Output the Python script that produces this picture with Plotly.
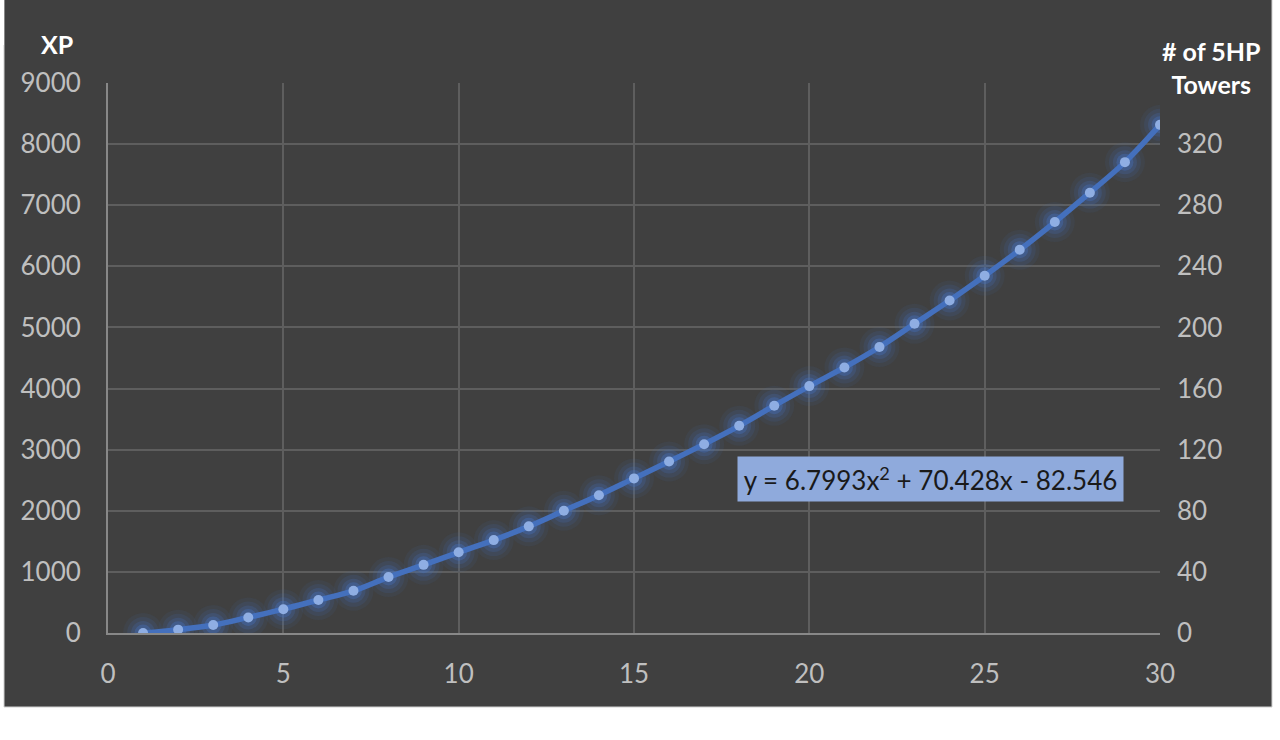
import plotly.graph_objects as go

# Data
level = list(range(1, 31))
xp = [0, 55, 130, 255, 390, 540, 690, 915, 1115, 1320,
      1520, 1745, 2000, 2255, 2530, 2805, 3090, 3390, 3720, 4040,
      4345, 4680, 5060, 5440, 5845, 6270, 6725, 7205, 7705, 8315]

xp_ticks = list(range(0, 9001, 1000))
tower_ticks = list(range(0, 321, 40))
level_ticks = list(range(0, 31, 5))

trend_text = "y = 6.7993x<sup>2</sup> + 70.428x - 82.546"

W, H = 1280, 740
L, R, T, B = 108, 120, 83, 107
pw, ph = W - L - R, H - T - B


def px(x):
    return (x - L) / pw


def py(y):
    return (H - B - y) / ph


BG = "#404040"
FONT = "Lato"

fig = go.Figure()

# soft glow under the markers
for size, alpha in [(40, 0.08), (32, 0.12), (24, 0.2), (17, 0.35)]:
    fig.add_trace(go.Scatter(
        x=level, y=xp, mode="markers",
        marker=dict(size=size, color=f"rgba(68,114,196,{alpha})", line=dict(width=0)),
        hoverinfo="skip", showlegend=False))

# trend line and points
fig.add_trace(go.Scatter(
    x=level, y=xp, mode="lines",
    line=dict(color="#4470BD", width=5.5, shape="spline"),
    showlegend=False))
fig.add_trace(go.Scatter(
    x=level, y=xp, mode="markers",
    marker=dict(size=10, color="#8FAEE3", line=dict(width=0)),
    showlegend=False))

# empty trace so the right axis is drawn
fig.add_trace(go.Scatter(x=[None], y=[None], yaxis="y2", showlegend=False))

fig.update_layout(
    width=W, height=H,
    margin=dict(l=L, r=R, t=T, b=B),
    paper_bgcolor="white",
    plot_bgcolor="rgba(0,0,0,0)",
    font=dict(family=FONT, size=26, color="#BFBFBF"),
    showlegend=False,
    xaxis=dict(
        range=[0, 30], tickvals=level_ticks,
        showgrid=True, gridcolor="#5E5E5E", gridwidth=2,
        showline=True, linecolor="#888888", linewidth=2,
        zeroline=False, ticks="", ticklabelstandoff=17,
        tickfont=dict(size=26, color="#BFBFBF"),
    ),
    yaxis=dict(
        range=[0, 9000], tickvals=xp_ticks,
        showgrid=True, gridcolor="#5E5E5E", gridwidth=2,
        showline=True, linecolor="#888888", linewidth=2,
        zeroline=False, ticks="", ticklabelstandoff=20,
        tickfont=dict(size=26, color="#BFBFBF"),
    ),
    yaxis2=dict(
        overlaying="y", side="right",
        range=[0, 360], tickvals=tower_ticks,
        showgrid=False, showline=False, zeroline=False,
        ticks="", ticklabelstandoff=16,
        tickfont=dict(size=26, color="#BFBFBF"),
    ),
    shapes=[
        dict(type="rect", xref="paper", yref="paper", layer="below",
             x0=px(4), x1=px(1272), y0=py(707), y1=py(-5),
             fillcolor=BG, line=dict(color="#D0D0D0", width=1)),
        dict(type="rect", xref="paper", yref="paper", layer="below",
             x0=px(-5), x1=px(4), y0=py(45), y1=py(-5),
             fillcolor="white", line=dict(width=0)),
    ],
    annotations=[
        dict(text="<b>XP</b>", xref="paper", yref="paper",
             x=px(57), y=py(44), xanchor="center", yanchor="middle",
             showarrow=False,
             font=dict(family=FONT, size=25, color="white")),
        dict(text="<b># of 5HP<br>Towers</b>", xref="paper", yref="paper",
             x=px(1211), y=py(67), xanchor="center", yanchor="middle",
             showarrow=False,
             font=dict(family=FONT, size=25, color="white")),
        dict(text=trend_text, xref="paper", yref="paper",
             x=px(930), y=py(479), xanchor="center", yanchor="middle",
             showarrow=False,
             width=383, height=42, bgcolor="#8FAADC",
             font=dict(family=FONT, size=26, color="#1A1A1A")),
    ],
)

fig.write_html("out.html", config={"displayModeBar": False},
               post_script="document.body.style.margin='0';")
